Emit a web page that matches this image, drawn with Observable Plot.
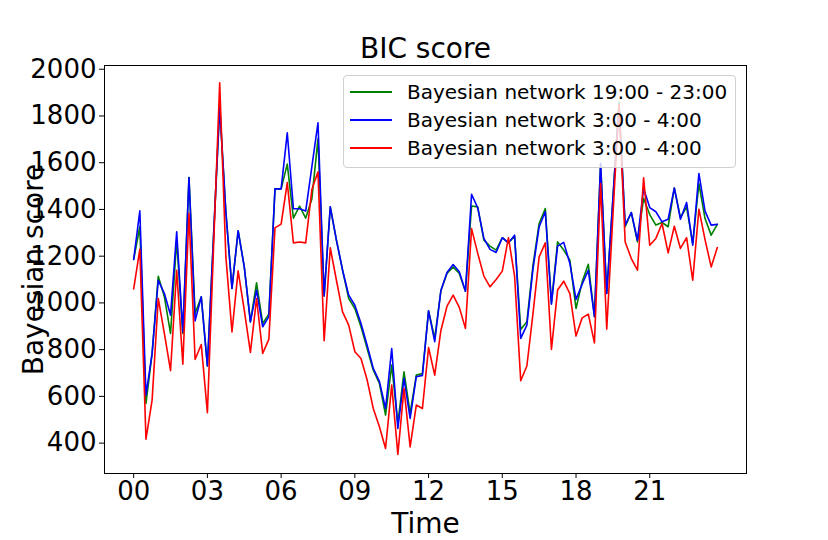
<!DOCTYPE html>
<html>
<head>
<meta charset="utf-8">
<script src="https://cdn.jsdelivr.net/npm/d3@7"></script>
<script src="https://cdn.jsdelivr.net/npm/@observablehq/plot@0.6"></script>
<style>
  html, body { margin: 0; padding: 0; background: white; }
  #wrap { position: relative; width: 828px; height: 540px; font-family: "DejaVu Sans", sans-serif; }
  #legend { position: absolute; left: 343px; top: 75px; width: 393px; height: 93px;
    border: 1px solid #d0d0d0; border-radius: 4px; background: rgba(255,255,255,0.8);
    box-sizing: border-box; }
  .row { position: absolute; left: 0; height: 28px; display: flex; align-items: center; }
  .sw { width: 42px; height: 2px; margin-left: 6px; margin-right: 15px; }
  .lab { font-size: 20px; color: black; white-space: nowrap; }
</style>
</head>
<body>
<div id="wrap"><div id="chart"></div><div id="legend"></div></div>
<script>
const seriesNames = ["Bayesian network 19:00 - 23:00", "Bayesian network 3:00 - 4:00", "Bayesian network 3:00 - 4:00"];
const seriesColors = ["green", "blue", "red"];
const xTickValues = [0, 3, 6, 9, 12, 15, 18, 21];
const xTickLabels = ["00", "03", "06", "09", "12", "15", "18", "21"];
const yTickValues = [400, 600, 800, 1000, 1200, 1400, 1600, 1800, 2000];

const greenScore = [1186,1326,570,784,1114,1026,869,1269,869,1537,955,1026,730,1285,1840,1390,
  1062,1309,1154,919,1086,912,952,1488,1488,1594,1363,1414,1363,1445,1702,1030,
  1411,1269,1140,1019,976,898,805,712,656,520,734,484,705,527,691,698,
  966,848,1052,1126,1154,1126,1050,1415,1411,1269,1243,1226,1279,1257,1285,886,
  919,1162,1340,1404,1000,1261,1226,1183,976,1090,1165,941,1596,1040,1445,1860,
  1326,1387,1261,1447,1378,1333,1344,1326,1492,1365,1411,1254,1511,1361,1290,1336];
const blueScore = [1186,1394,605,784,1097,1040,948,1304,876,1537,923,1026,730,1285,1840,1390,
  1062,1309,1154,919,1055,898,941,1488,1488,1728,1403,1403,1393,1582,1771,1030,
  1411,1269,1140,1033,990,912,819,720,663,548,805,463,677,506,684,690,
  966,834,1052,1130,1164,1133,1050,1465,1407,1276,1229,1216,1279,1257,1290,848,
  905,1147,1326,1390,995,1243,1259,1169,1015,1080,1140,941,1596,1040,1445,1845,
  1333,1387,1268,1490,1408,1390,1347,1358,1492,1358,1430,1247,1554,1393,1333,1336];
const redScore = [1060,1229,417,584,1019,869,710,1140,738,1383,758,822,530,1236,1942,1200,
  876,1137,969,788,1019,784,844,1321,1337,1515,1257,1261,1257,1485,1561,838,
  1236,1097,962,905,791,762,670,548,470,377,648,352,634,384,563,548,
  809,691,881,986,1033,981,891,1318,1212,1115,1069,1100,1136,1279,1115,667,
  730,955,1197,1257,801,1055,1093,1040,858,936,952,829,1511,888,1370,1850,
  1261,1190,1140,1535,1247,1276,1340,1214,1328,1233,1279,1097,1401,1271,1154,1237];

// time in hours, one sample every 15 minutes
const hours = greenScore.map((_, i) => i / 4);
const allSeries = [greenScore, blueScore, redScore];

const tables = allSeries.map(vals => vals.map((v, i) => ({t: hours[i], v})));

const chart = Plot.plot({
  width: 828,
  height: 540,
  marginLeft: 104,
  marginRight: 82,
  marginTop: 65,
  marginBottom: 67,
  style: {fontFamily: "DejaVu Sans, sans-serif", background: "white", color: "black"},
  x: {domain: [-1.1875, 24.9375]},
  y: {domain: [270, 2016]},
  marks: [
    Plot.axisX({ticks: xTickValues, tickFormat: d => xTickLabels[xTickValues.indexOf(d)],
      tickSize: 5, tickPadding: 3, fontSize: 26, label: null, stroke: "black"}),
    Plot.axisY({ticks: yTickValues, tickFormat: d => String(d),
      tickSize: 5, tickPadding: 3, fontSize: 26, label: null, stroke: "black"}),
    ...tables.map((tb, k) => Plot.line(tb, {x: "t", y: "v", stroke: seriesColors[k], strokeWidth: 1.6})),
    Plot.frame({stroke: "black", strokeWidth: 1}),
    Plot.text(["BIC score"], {frameAnchor: "top", lineAnchor: "middle", dy: -16, fontSize: 28, fill: "black"}),
    Plot.text(["Time"], {frameAnchor: "bottom", lineAnchor: "middle", dy: 51, fontSize: 28, fill: "black"}),
    Plot.text(["Bayesian score"], {frameAnchor: "left", textAnchor: "middle", lineAnchor: "middle", dx: -70, rotate: -90, fontSize: 28, fill: "black"})
  ]
});
document.getElementById("chart").appendChild(chart);

const legend = document.getElementById("legend");
seriesNames.forEach((name, k) => {
  const row = document.createElement("div");
  row.className = "row";
  row.style.top = (2 + k * 28) + "px";
  const sw = document.createElement("div");
  sw.className = "sw";
  sw.style.background = seriesColors[k];
  const lab = document.createElement("span");
  lab.className = "lab";
  lab.textContent = name;
  row.appendChild(sw);
  row.appendChild(lab);
  legend.appendChild(row);
});
</script>
</body>
</html>
